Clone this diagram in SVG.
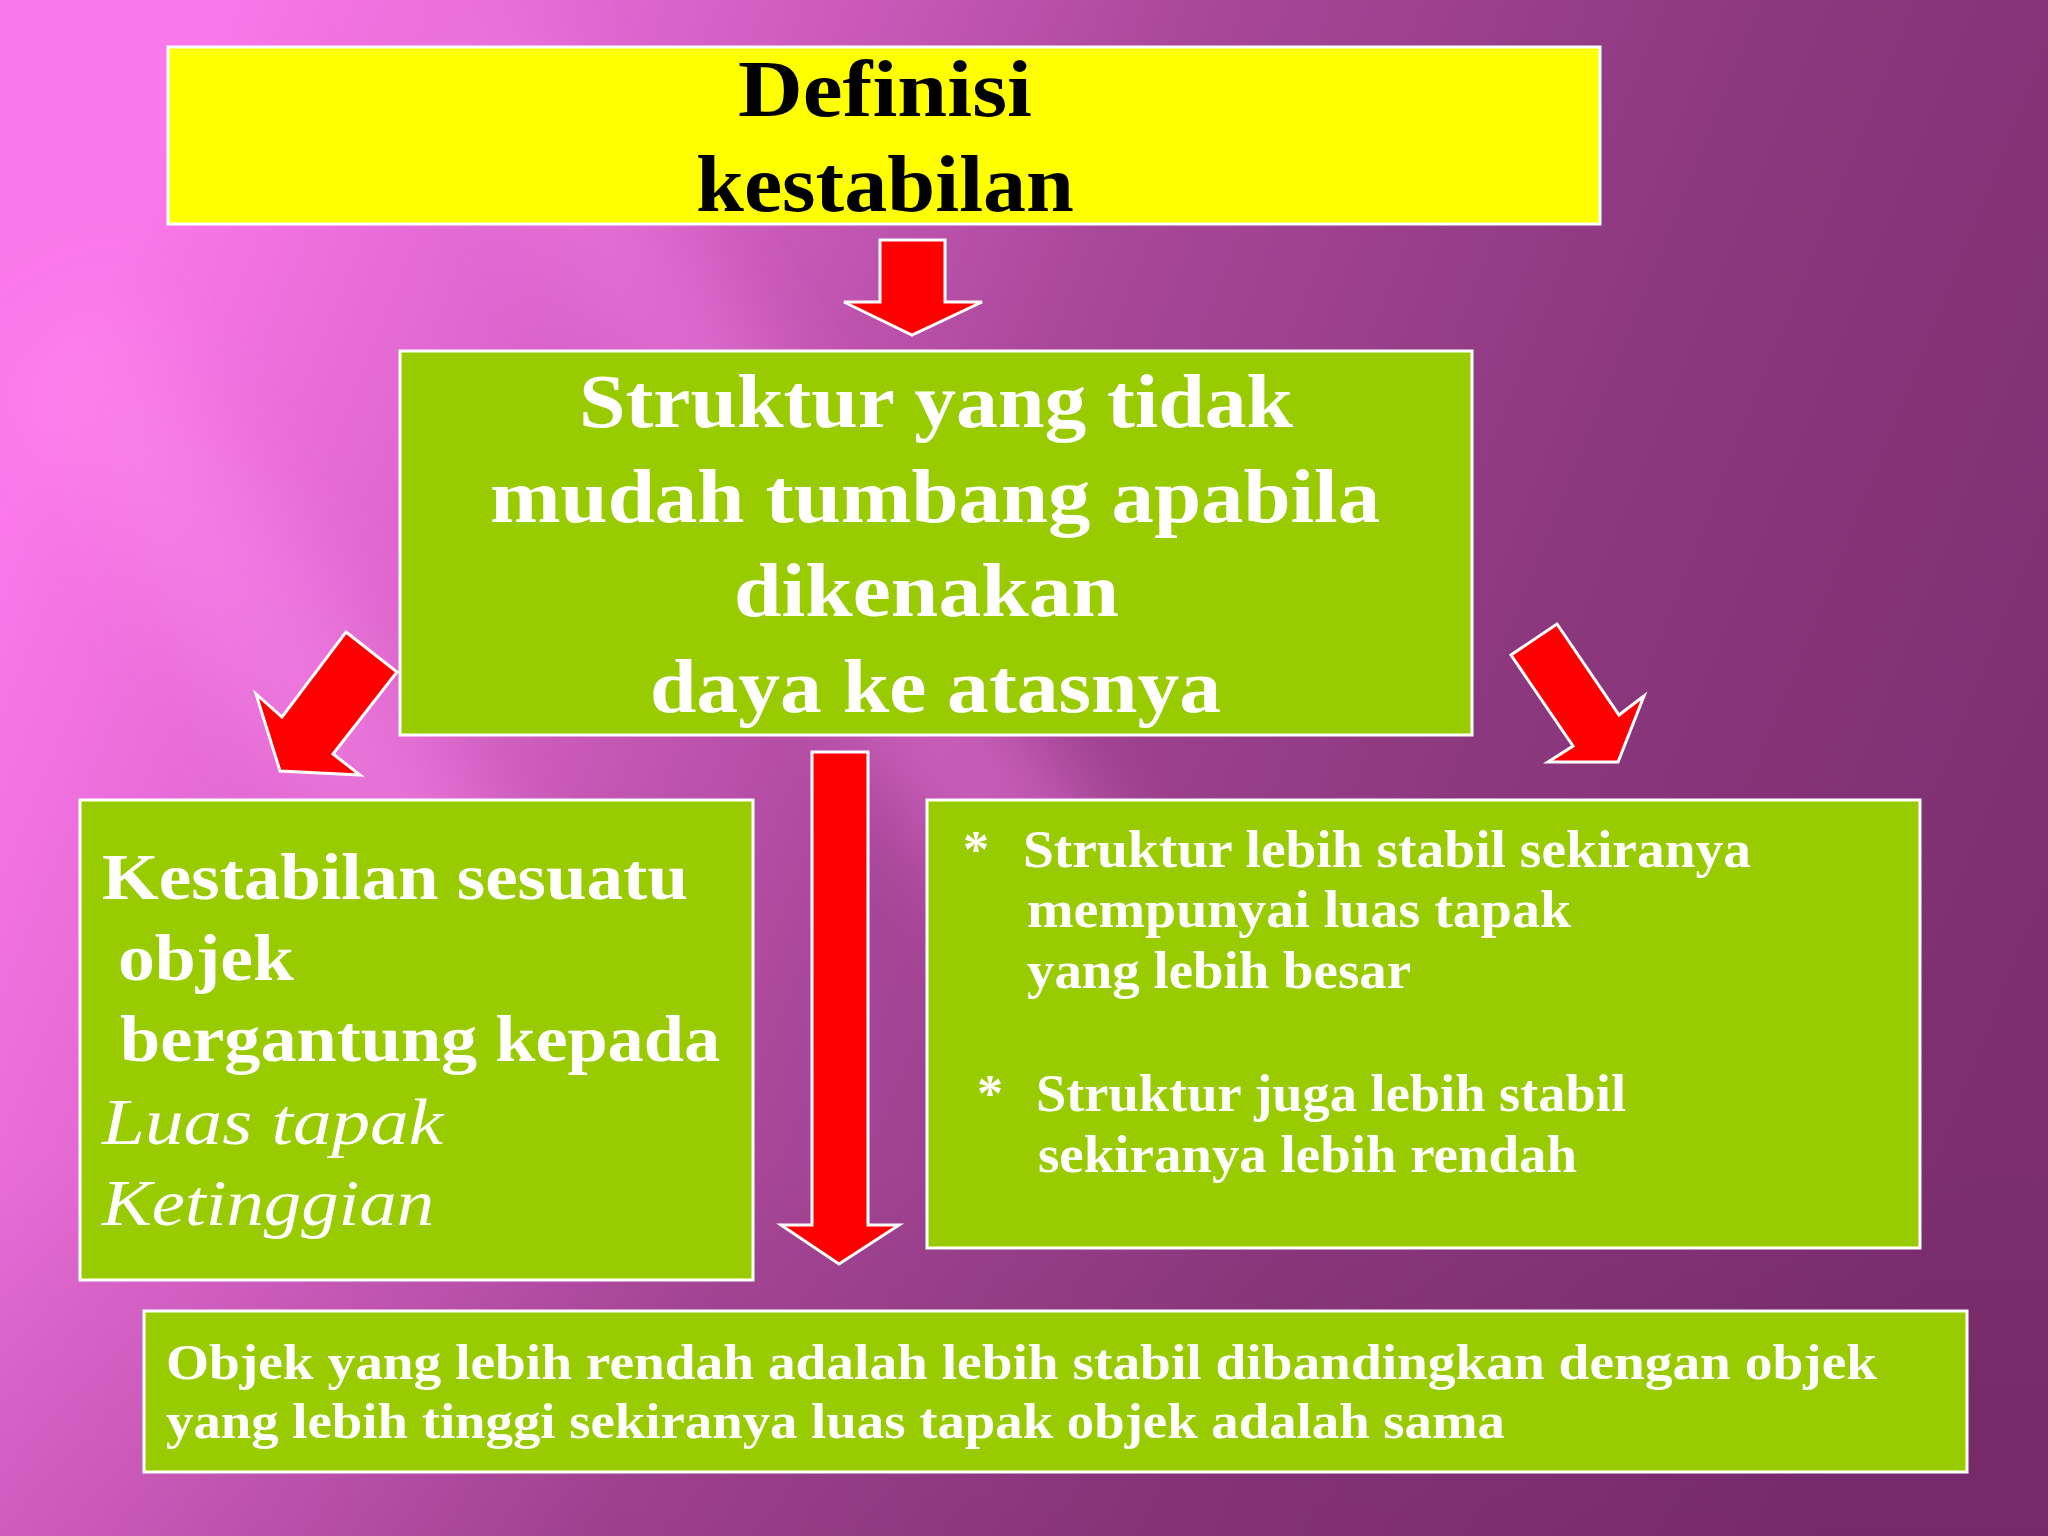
<svg xmlns="http://www.w3.org/2000/svg" width="2048" height="1536" viewBox="0 0 2048 1536">
  <defs>
    <linearGradient id="bg" x1="0" y1="0.35" x2="1" y2="0.65">
      <stop offset="0" stop-color="#fb78ea"/>
      <stop offset="0.22" stop-color="#d862c8"/>
      <stop offset="0.45" stop-color="#a84698"/>
      <stop offset="0.7" stop-color="#8c387e"/>
      <stop offset="1" stop-color="#7c2e70"/>
    </linearGradient>
    <linearGradient id="shade" x1="0" y1="0" x2="0" y2="1">
      <stop offset="0" stop-color="#000000" stop-opacity="0"/>
      <stop offset="0.75" stop-color="#000000" stop-opacity="0"/>
      <stop offset="1" stop-color="#400030" stop-opacity="0.1"/>
    </linearGradient>
    <filter id="blur" x="-50%" y="-50%" width="200%" height="200%">
      <feGaussianBlur stdDeviation="40"/>
    </filter>
  </defs>
  <style>
    .box { stroke: #ffffff; stroke-width: 3; }
    .yellow { fill: #ffff00; }
    .green { fill: #99cc00; }
    .arrow { fill: #ff0000; stroke: #ffffff; stroke-width: 3; stroke-linejoin: miter; }
    .t { font-family: "Liberation Serif", "Times New Roman", serif; font-weight: bold; }
    .dark { fill: #000000; }
    .w { fill: #ffffff; }
    .it { font-style: italic; font-weight: normal; }
  </style>

  <!-- background -->
  <rect x="0" y="0" width="2048" height="1536" fill="url(#bg)"/>
  <g filter="url(#blur)">
    <polygon points="380,0 520,0 1150,900 1000,960" fill="#f07ae0" opacity="0.45"/>
    <polygon points="0,380 120,300 700,1100 560,1180" fill="#ff90f0" opacity="0.35"/>
  </g>
  <rect x="0" y="0" width="2048" height="1536" fill="url(#shade)"/>

  <g id="node-definisi">
    <rect class="box yellow" x="168" y="47" width="1432" height="177"/>
    <text class="t dark" font-size="80" x="738" y="116" textLength="294" lengthAdjust="spacingAndGlyphs">Definisi</text>
    <text class="t dark" font-size="80" x="696" y="211" textLength="378" lengthAdjust="spacingAndGlyphs">kestabilan</text>
  </g>

  <g id="node-struktur">
    <rect class="box green" x="400" y="351" width="1072" height="384"/>
    <text class="t w" font-size="76" x="579" y="427" textLength="714" lengthAdjust="spacingAndGlyphs">Struktur yang tidak</text>
    <text class="t w" font-size="76" x="490" y="522" textLength="890" lengthAdjust="spacingAndGlyphs">mudah tumbang apabila</text>
    <text class="t w" font-size="76" x="734" y="616" textLength="385" lengthAdjust="spacingAndGlyphs">dikenakan</text>
    <text class="t w" font-size="76" x="650" y="712" textLength="571" lengthAdjust="spacingAndGlyphs">daya ke atasnya</text>
  </g>

  <g id="node-kestabilan">
    <rect class="box green" x="80" y="800" width="673" height="480"/>
    <text class="t w" font-size="66" x="102" y="899" textLength="586" lengthAdjust="spacingAndGlyphs">Kestabilan sesuatu</text>
    <text class="t w" font-size="66" x="118" y="980" textLength="176" lengthAdjust="spacingAndGlyphs">objek</text>
    <text class="t w" font-size="66" x="120" y="1061" textLength="600" lengthAdjust="spacingAndGlyphs">bergantung kepada</text>
    <text class="t w it" font-size="66" x="102" y="1144" textLength="341" lengthAdjust="spacingAndGlyphs">Luas tapak</text>
    <text class="t w it" font-size="66" x="102" y="1225" textLength="332" lengthAdjust="spacingAndGlyphs">Ketinggian</text>
  </g>

  <g id="node-stabil">
    <rect class="box green" x="927" y="800" width="993" height="448"/>
    <text class="t w" font-size="52" x="963" y="867">*</text>
    <text class="t w" font-size="52" x="1023" y="867" textLength="728" lengthAdjust="spacingAndGlyphs">Struktur lebih stabil  sekiranya</text>
    <text class="t w" font-size="52" x="1027" y="927" textLength="544" lengthAdjust="spacingAndGlyphs">mempunyai luas  tapak</text>
    <text class="t w" font-size="52" x="1027" y="988" textLength="384" lengthAdjust="spacingAndGlyphs">yang lebih besar</text>
    <text class="t w" font-size="52" x="977" y="1111">*</text>
    <text class="t w" font-size="52" x="1036" y="1111" textLength="590" lengthAdjust="spacingAndGlyphs">Struktur juga lebih stabil</text>
    <text class="t w" font-size="52" x="1038" y="1172" textLength="539" lengthAdjust="spacingAndGlyphs">sekiranya lebih rendah</text>
  </g>

  <g id="node-objek">
    <rect class="box green" x="144" y="1311" width="1823" height="161"/>
    <text class="t w" font-size="50" x="166" y="1379" textLength="1711" lengthAdjust="spacingAndGlyphs">Objek yang lebih rendah adalah lebih stabil dibandingkan dengan objek</text>
    <text class="t w" font-size="50" x="166" y="1438" textLength="1339" lengthAdjust="spacingAndGlyphs">yang lebih tinggi sekiranya luas tapak objek adalah sama</text>
  </g>

  <g id="connectors">
    <polygon class="arrow" points="880,240 945,240 945,302 982,302 912,335 844,302 880,302"/>
    <polygon class="arrow" points="346,632 397,672 333,754 360,775 280,771 256,694 282,717"/>
    <polygon class="arrow" points="1511,655 1557,624 1619,715 1644,696 1618,762 1548,762 1573,746"/>
    <polygon class="arrow" points="812,752 868,752 868,1225 899,1225 839,1264 781,1225 812,1225"/>
  </g>
</svg>
